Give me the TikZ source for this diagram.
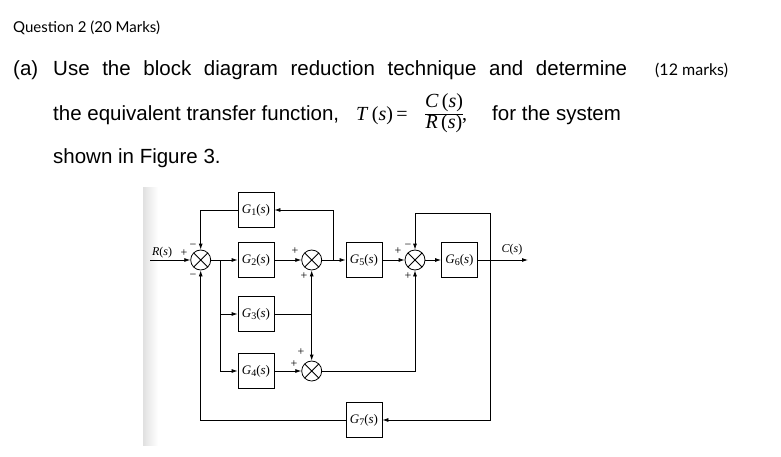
\documentclass[tikz,border=0pt]{standalone}
\usepackage{fontspec}
\setmainfont{Liberation Sans}
\newfontfamily\lato{Lato}
\newfontfamily\serifd{Liberation Serif}
\usetikzlibrary{arrows.meta}
\newcommand{\gl}[1]{\textit{G}\raisebox{-2.5pt}{\fontsize{10}{10}\selectfont #1}(\textit{s})}
\begin{document}
\begin{tikzpicture}[x=1pt,y=-1pt,
  blk/.style={draw,thick,minimum width=36pt,minimum height=35pt,inner sep=0pt,font=\serifd\fontsize{13}{13}\selectfont},
  sumj/.style={draw,thick,circle,minimum size=20pt,inner sep=0pt,path picture={\draw[thick] (path picture bounding box.north west)--(path picture bounding box.south east) (path picture bounding box.north east)--(path picture bounding box.south west);}},
  sg/.style={font=\serifd\fontsize{12}{12}\selectfont,inner sep=0pt},
  ar/.style={thick,-{Latex[length=6pt,width=4pt]}},
  ln/.style={thick},
  txt/.style={anchor=base west,font=\fontsize{20.5}{20.5}\selectfont,inner sep=0pt}]
\useasboundingbox (0,0) rectangle (781,457);
\node[anchor=base west,font=\lato\fontsize{15}{15}\selectfont,inner sep=0pt] (q) at (13,33) {Question 2 (20 Marks)};
\node[txt] (a) at (13,76) {(a)};
\node[txt] (l1) at (53,76) {\makebox[574pt][s]{Use the block diagram reduction technique and determine}};
\node[anchor=base west,font=\lato\fontsize{16}{16}\selectfont,inner sep=0pt] (m) at (655,76) {(12 marks)};
\node[txt] (l2) at (53,121) {the equivalent transfer function,};
\node[anchor=base west,font=\serifd\fontsize{20}{20}\selectfont,inner sep=0pt] (tf) at (356,121) {\textit{T}\,(\textit{s})\,=};
\node[font=\serifd\fontsize{20}{20}\selectfont,inner sep=0pt] (frac) at (444,114) {\renewcommand{\arraystretch}{1.0}\setlength{\tabcolsep}{0pt}\begin{tabular}{c}\textit{C}\,(\textit{s})\\\hline\textit{R}\,(\textit{s})\end{tabular}};
\node[anchor=base west,font=\serifd\fontsize{20}{20}\selectfont,inner sep=0pt] (cm) at (462,121) {,};
\node[txt] (l2b) at (492,121) {for the system};
\node[txt] (l3) at (53,164) {shown in Figure 3.};
\shade[left color=black!12,right color=white] (143,188) rectangle (158,445);
\node[sumj] (s1) at (200.7,260) {};
\node[sumj] (s2) at (311.7,260) {};
\node[sumj] (s3) at (415,260) {};
\node[sumj] (s4) at (311.7,371) {};
\node[blk] (g1) at (256,210) {\gl{1}};
\node[blk] (g2) at (256,260) {\gl{2}};
\node[blk] (g3) at (256,314) {\gl{3}};
\node[blk] (g4) at (256,371) {\gl{4}};
\node[blk] (g5) at (364,260) {\gl{5}};
\node[blk] (g6) at (459.5,260) {\gl{6}};
\node[blk] (g7) at (364,420) {\gl{7}};
\coordinate (rin) at (150,260);
\coordinate (cout) at (528,260);
\coordinate (b1) at (220,260);
\coordinate (b2) at (333.3,260);
\coordinate (b3) at (490,260);
\coordinate (j3) at (311.7,314);
\draw[ar] (rin) -- (s1);
\draw[ln] (s1) -- (b1);
\draw[ar] (b1) -- (g2);
\draw[ar] (b1) |- (g3);
\draw[ar] (b1) |- (g4);
\draw[ar] (g2) -- (s2);
\draw[ln] (s2) -- (b2);
\draw[ar] (b2) -- (g5);
\draw[ar] (b2) |- (g1);
\draw[ar] (g1) -| (s1);
\draw[ar] (g5) -- (s3);
\draw[ar] (s3) -- (g6);
\draw[ar] (g6) -- (cout);
\draw[ar] (b3) |- (415,213) -- (s3);
\draw[ar] (b3) |- (g7);
\draw[ar] (g7) -| (s1);
\draw[ln] (g3) -- (j3);
\draw[ar] (j3) -- (s2);
\draw[ar] (j3) -- (s4);
\draw[ar] (g4) -- (s4);
\draw[ar] (s4) -| (s3);
\node[sg] (rl) at (162,253) {\textit{R}(\textit{s})};
\node[sg] (cl) at (512,250) {\textit{C}(\textit{s})};
\node[sg] (p1) at (184,253) {+};
\node[sg] (n1) at (193,246) {\textminus};
\node[sg] (n2) at (193,276) {\textminus};
\node[sg] (p2) at (295,251) {+};
\node[sg] (p3) at (304,276) {+};
\node[sg] (p4) at (398,251) {+};
\node[sg] (n3) at (408,246) {\textminus};
\node[sg] (p5) at (408,276) {+};
\node[sg] (p6) at (301,352) {+};
\node[sg] (p7) at (294,364) {+};
\end{tikzpicture}
\end{document}
